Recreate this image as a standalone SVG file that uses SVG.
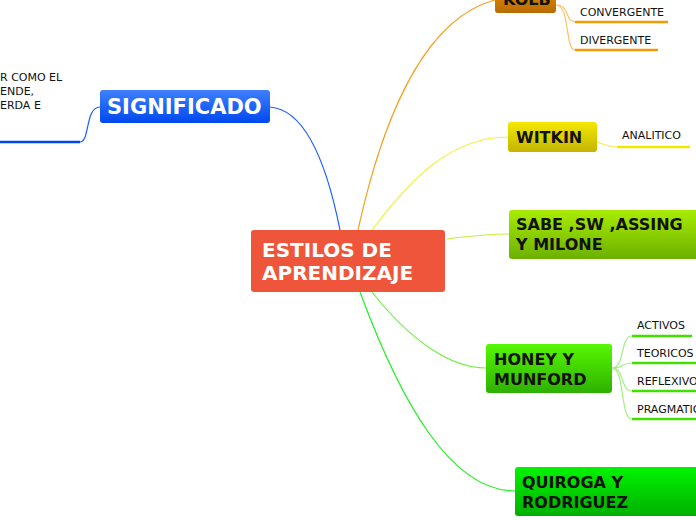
<svg xmlns="http://www.w3.org/2000/svg" width="696" height="520" viewBox="0 0 696 520">
<defs>
<linearGradient id="gB" x1="0" y1="0" x2="0" y2="1"><stop offset="0" stop-color="#3f80ff"/><stop offset="1" stop-color="#0048ee"/></linearGradient>
<linearGradient id="gO" x1="0" y1="0" x2="0" y2="1"><stop offset="0" stop-color="#e89000"/><stop offset="1" stop-color="#b86c00"/></linearGradient>
<linearGradient id="gY" x1="0" y1="0" x2="0" y2="1"><stop offset="0" stop-color="#f4e800"/><stop offset="1" stop-color="#c4b400"/></linearGradient>
<linearGradient id="gS" x1="0" y1="0" x2="0" y2="1"><stop offset="0" stop-color="#a8ec00"/><stop offset="1" stop-color="#6cb000"/></linearGradient>
<linearGradient id="gH" x1="0" y1="0" x2="0" y2="1"><stop offset="0" stop-color="#56f800"/><stop offset="1" stop-color="#2eb000"/></linearGradient>
<linearGradient id="gQ" x1="0" y1="0" x2="0" y2="1"><stop offset="0" stop-color="#00f400"/><stop offset="1" stop-color="#00b000"/></linearGradient>
</defs>
<style>
.t{font-family:"DejaVu Sans",Verdana,sans-serif;font-weight:bold}
.s{font-family:"DejaVu Sans",Verdana,sans-serif;font-size:11px;fill:#111}
.c{fill:none;stroke-width:1.2}
</style>
<rect width="696" height="520" fill="#fff"/>
<g id="connectors">
<path class="c" stroke="#1a5cff" d="M340,230 C330,180 310,110 270,107"/>
<path class="c" stroke="#1a5cff" d="M100,107 C85,107 90,142 80,142"/>
<path stroke="#0048ee" stroke-width="2.5" d="M0,142 H80"/>
<path class="c" stroke="#f5a020" d="M358,230 C380,130 420,20 495,0"/>
<path class="c" stroke="#f0f040" d="M372,230 C410,180 450,137 508,137"/>
<path class="c" stroke="#c0f040" d="M447,239 C470,236 490,234 509,234"/>
<path class="c" stroke="#70f040" d="M372,292 C410,340 450,368 486,368"/>
<path class="c" stroke="#20f020" d="M360,292 C400,400 450,491 515,491"/>
<path class="c" stroke="#ffc060" d="M556,5 C570,5 565,22 575,22 M556,5 C570,5 565,50 575,50"/>
<path stroke="#f59a00" stroke-width="2.5" d="M575,22 H668 M575,50 H658"/>
<path class="c" stroke="#f0f060" d="M597,142 C605,145 610,147 617,147"/>
<path stroke="#f0e800" stroke-width="2.5" d="M617,147 H690"/>
<path class="c" stroke="#a0f080" d="M612,368 C625,368 620,336 632,336 M612,368 C625,368 620,363 632,363 M612,368 C625,368 620,391 632,391 M612,368 C625,368 620,419 632,419"/>
<path stroke="#40e000" stroke-width="2.5" d="M632,336 H692 M632,363 H696 M632,391 H696 M632,419 H696"/>
</g>
<g id="left-text">
<text class="s" x="0" y="81">R COMO EL</text>
<text class="s" x="0" y="95">ENDE,</text>
<text class="s" x="0" y="109">ERDA E</text>
</g>
<g id="central"><rect x="251" y="230" width="194" height="62" rx="3" fill="#ef553b"/>
<text class="t" x="262" y="257" font-size="20" fill="#fff">ESTILOS DE</text>
<text class="t" x="262" y="280" font-size="20" fill="#fff">APRENDIZAJE</text></g>
<g id="significado"><rect x="100" y="90" width="170" height="33" rx="3" fill="url(#gB)"/>
<text class="t" x="107" y="114" font-size="21" fill="#fff">SIGNIFICADO</text></g>
<g id="kolb"><rect x="495" y="-15" width="61" height="28" rx="3" fill="url(#gO)"/>
<text class="t" x="503" y="5" font-size="16" fill="#111">KOLB</text></g>
<text class="s" x="580" y="16">CONVERGENTE</text>
<text class="s" x="580" y="44">DIVERGENTE</text>
<g id="witkin"><rect x="508" y="122" width="89" height="30" rx="3" fill="url(#gY)"/>
<text class="t" x="516" y="143" font-size="16" fill="#111">WITKIN</text></g>
<text class="s" x="622" y="139">ANALITICO</text>
<g id="sabe"><rect x="509" y="210" width="192" height="49" rx="3" fill="url(#gS)"/>
<text class="t" x="516" y="230" font-size="16" fill="#111">SABE ,SW ,ASSING</text>
<text class="t" x="516" y="250" font-size="16" fill="#111">Y MILONE</text></g>
<g id="honey"><rect x="486" y="344" width="126" height="49" rx="3" fill="url(#gH)"/>
<text class="t" x="494" y="365" font-size="16" fill="#111">HONEY Y</text>
<text class="t" x="494" y="385" font-size="16" fill="#111">MUNFORD</text></g>
<text class="s" x="637" y="329">ACTIVOS</text>
<text class="s" x="637" y="357">TEORICOS</text>
<text class="s" x="637" y="385">REFLEXIVO</text>
<text class="s" x="637" y="413">PRAGMATIC</text>
<g id="quiroga"><rect x="515" y="467" width="190" height="49" rx="3" fill="url(#gQ)"/>
<text class="t" x="522" y="488" font-size="16" fill="#111">QUIROGA Y</text>
<text class="t" x="522" y="508" font-size="16" fill="#111">RODRIGUEZ</text></g>
</svg>
